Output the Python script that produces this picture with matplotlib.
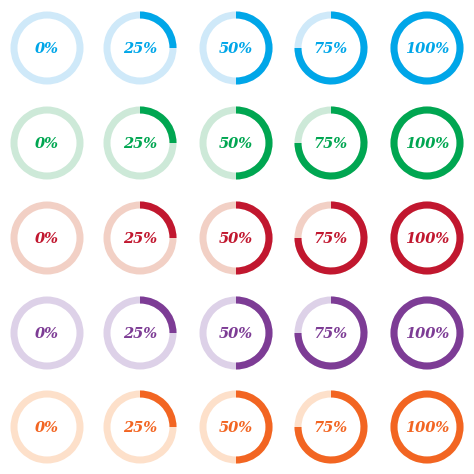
import matplotlib
matplotlib.use('Agg')
import matplotlib.pyplot as plt
from matplotlib.patches import Wedge

# progress values per column, one colour theme per row
percents = [0, 25, 50, 75, 100]
labels = ['0%', '25%', '50%', '75%', '100%']
dark_colors = ['#00a6e8', '#00a651', '#c1172f', '#7d3c95', '#f26522']
light_colors = ['#cfe9f9', '#cde9d8', '#f2d0c5', '#ddd1e8', '#fde0ca']

col_x = [47, 140, 236, 331, 427]
row_y = [48, 143, 238, 333, 427]
r_out = 36.5
ring_w = 7

fig = plt.figure(figsize=(4.74, 4.74), dpi=100)
ax = fig.add_axes([0, 0, 1, 1])
ax.set_xlim(0, 474)
ax.set_ylim(0, 474)
ax.set_aspect('equal')
ax.axis('off')

for i, (dark, light) in enumerate(zip(dark_colors, light_colors)):
    cy = 474 - row_y[i]
    for j, (p, lab) in enumerate(zip(percents, labels)):
        cx = col_x[j]
        ax.add_patch(Wedge((cx, cy), r_out, 0, 360, width=ring_w,
                           facecolor=light, edgecolor='none'))
        if p > 0:
            # clockwise from 12 o'clock
            ax.add_patch(Wedge((cx, cy), r_out, 90 - 360 * p / 100, 90,
                               width=ring_w, facecolor=dark, edgecolor='none'))
        ax.text(cx, cy - 1, lab, ha='center', va='center', color=dark,
                fontsize=10.5, family='DejaVu Serif', weight='bold', style='italic')

plt.savefig('out.png', dpi=100)
